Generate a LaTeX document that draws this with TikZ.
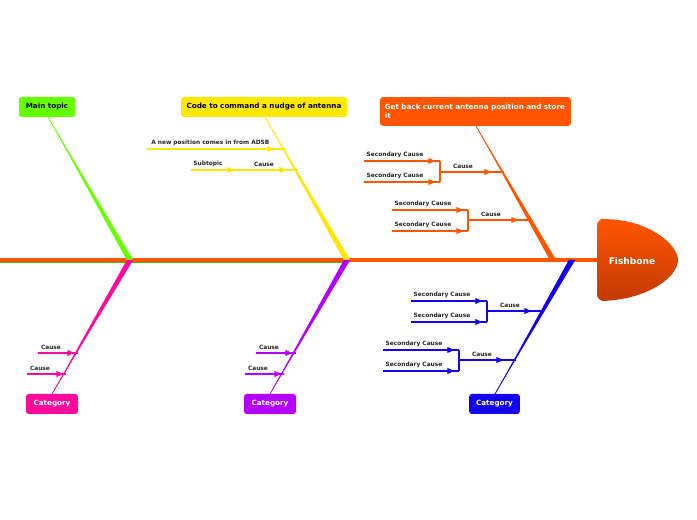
\documentclass[tikz,border=0pt]{standalone}
\usepackage{fontspec}
\setmainfont{DejaVu Sans}
\usetikzlibrary{arrows.meta}
\definecolor{kg}{HTML}{66FF00}
\definecolor{ky}{HTML}{FFE800}
\definecolor{ko}{HTML}{FF5500}
\definecolor{km}{HTML}{FF0A9C}
\definecolor{kp}{HTML}{B400FF}
\definecolor{kb}{HTML}{1400EE}
\definecolor{kh}{HTML}{C23A05}
\tikzset{
 box/.style={rounded corners=2pt,inner sep=0pt,font=\fontsize{5.4}{6.5}\selectfont\bfseries},
 lbl/.style={font=\fontsize{4.4}{5}\selectfont\bfseries,text=black!85,inner sep=0pt},
 arr/.style={-{Triangle[length=5pt,width=4.5pt]},line width=0.8pt},
 ln/.style={line width=0.8pt},
}
\begin{document}
\begin{tikzpicture}[x=0.75pt,y=-0.75pt]
\useasboundingbox (0,0) rectangle (697,520);
% spine
\draw[line width=3pt,color=ko] (0,260) -- (600,260);
\draw[line width=0.5pt,color=kg!70!black] (0,262) -- (347,262);
% head
\shade[top color=ko,bottom color=kh,rounded corners=5pt] (600,219) -- (603,219) [sharp corners] .. controls (650,221) and (678,245) .. (678,260) .. controls (678,276) and (650,299) .. (603,301) [rounded corners=5pt] -- (597,301) -- (597,219) -- (603,219);
\node[font=\fontsize{6.8}{8}\selectfont\bfseries,text=white] (fish) at (632,261) {Fishbone};
% bones
\coordinate (g1) at (48,117); \coordinate (g2) at (130,260);
\coordinate (y1) at (265,117); \coordinate (y2) at (347,260);
\coordinate (o1) at (476,126); \coordinate (o2) at (553,260);
\coordinate (m1) at (52,394); \coordinate (m2) at (130,260);
\coordinate (p1) at (270,394); \coordinate (p2) at (347,260);
\coordinate (b1) at (495,394); \coordinate (b2) at (572,260);
\foreach \pa/\pb/\kk in {g1/g2/kg,y1/y2/ky,o1/o2/ko,m1/m2/km,p1/p2/kp,b1/b2/kb}{
 \fill[color=\kk] (\pa) -- ([xshift=-2.4]\pb) -- ([xshift=2.4]\pb) -- cycle;
 \draw[color=\kk,line width=0.6pt] (\pa) -- (\pb);
}
% boxes
\node[box,fill=kg,text=black,minimum width=42pt,minimum height=15pt] (main) at (47,107) {Main topic};
\node[box,fill=ky,text=black,minimum width=124.5pt,minimum height=15pt] (ycat) at (264,107) {Code to command a nudge of antenna};
\node[box,fill=ko,text=white,minimum width=143pt,minimum height=21.5pt,align=left,text width=136pt] (ocat) at (475.5,111.5) {Get back current antenna position and store\\it};
\node[box,fill=km,text=white,minimum width=39pt,minimum height=15pt] (mcat) at (52,404) {Category};
\node[box,fill=kp,text=white,minimum width=39pt,minimum height=15pt] (pcat) at (270,404) {Category};
\node[box,fill=kb,text=white,minimum width=38pt,minimum height=15pt] (bcat) at (494.5,404) {Category};
% yellow causes
\draw[arr,color=ky] (147,149) -- (274,149); \draw[ln,color=ky] (272,149) -- (285,149);
\node[lbl,anchor=south west] (t1) at (151,146) {A new position comes in from ADSB};
\draw[arr,color=ky] (191,170) -- (234,170); \draw[arr,color=ky] (232,170) -- (286,170); \draw[ln,color=ky] (284,170) -- (298,170);
\node[lbl,anchor=south] (t2) at (208,167) {Subtopic};
\node[lbl,anchor=south] (t3) at (264,167) {Cause};
% orange and blue causes
\foreach \kk/\vy/\va/\vb/\vc/\ve in {ko/161/364/440/172/504, ko/210/392/468/220/531, kb/301/411/487/311/544, kb/350/383/459/360/516}{
 \draw[arr,color=\kk] (\va,\vy) -- (\vb-5,\vy); \draw[ln,color=\kk] (\vb-7,\vy) -- (\vb+0.3,\vy);
 \draw[arr,color=\kk] (\va,\vy+21) -- (\vb-5,\vy+21); \draw[ln,color=\kk] (\vb-7,\vy+21) -- (\vb+0.3,\vy+21);
 \draw[ln,color=\kk] (\vb,\vy) -- (\vb,\vy+21);
 \draw[arr,color=\kk] (\vb,\vc) -- (\ve-13,\vc); \draw[ln,color=\kk] (\ve-15,\vc) -- (\ve,\vc);
 \node[lbl,anchor=south] at (\va+31,\vy-3) {Secondary Cause};
 \node[lbl,anchor=south] at (\va+31,\vy+18) {Secondary Cause};
 \node[lbl,anchor=south] at (\vb+23,\vc-3) {Cause};
}
% magenta / purple causes
\foreach \kk/\dx in {km/0, kp/218}{
 \draw[arr,color=\kk] (38+\dx,353) -- (74+\dx,353); \draw[ln,color=\kk] (72+\dx,353) -- (78+\dx,353);
 \draw[arr,color=\kk] (27+\dx,374) -- (63+\dx,374); \draw[ln,color=\kk] (61+\dx,374) -- (66+\dx,374);
 \node[lbl,anchor=south] at (51+\dx,350) {Cause};
 \node[lbl,anchor=south] at (40+\dx,371) {Cause};
}
\end{tikzpicture}
\end{document}
